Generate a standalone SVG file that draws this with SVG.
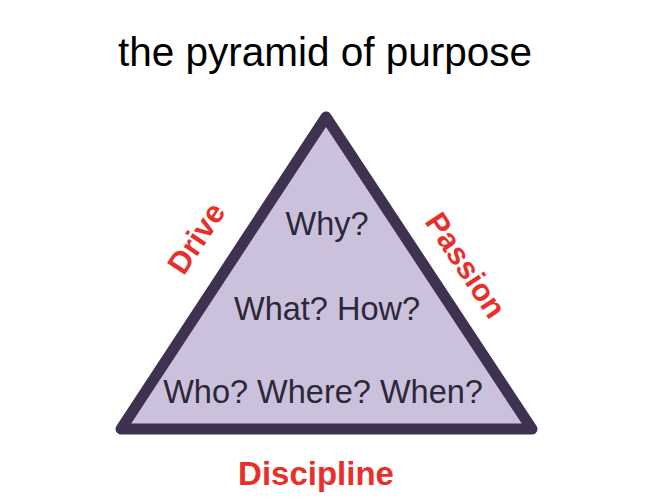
<svg xmlns="http://www.w3.org/2000/svg" width="650" height="501" viewBox="0 0 650 501">
  <style>
    .title { font-family: "Liberation Sans", Arial, sans-serif; font-size: 40.5px; fill: #000000; }
    .q { font-family: "Liberation Sans", Arial, sans-serif; font-size: 32.5px; fill: #2b2838; }
    .side { font-family: "Liberation Sans", Arial, sans-serif; font-weight: bold; fill: #e8302a; }
    .tri { fill: #cbc1dc; stroke: #3f3150; stroke-width: 11; stroke-linejoin: round; }
  </style>
  <rect width="650" height="501" fill="#ffffff"/>
  <g id="title">
    <text class="title" x="325" y="66" text-anchor="middle">the pyramid of purpose</text>
  </g>
  <g id="pyramid">
    <polygon class="tri" points="326,117 121,429 532,429"/>
    <text class="q" x="327" y="235" text-anchor="middle">Why?</text>
    <text class="q" x="327" y="320" text-anchor="middle">What? How?</text>
    <text class="q" x="323" y="403" text-anchor="middle">Who? Where? When?</text>
  </g>
  <g id="drive">
    <text class="side" font-size="31" text-anchor="middle" transform="translate(196,238) rotate(-56.5)" y="11">Drive</text>
  </g>
  <g id="passion">
    <text class="side" font-size="31" text-anchor="middle" transform="translate(466,265) rotate(56.5)" y="11">Passion</text>
  </g>
  <g id="discipline">
    <text class="side" font-size="33" x="316" y="485" text-anchor="middle">Discipline</text>
  </g>
  <g id="connectors"></g>
</svg>
